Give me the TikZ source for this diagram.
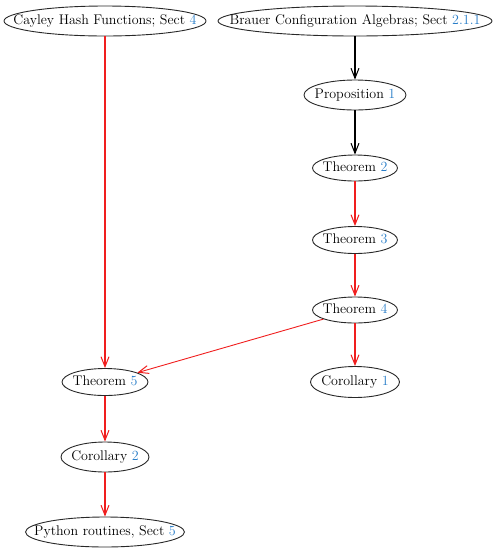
\documentclass[tikz,border=0pt]{standalone}
\usetikzlibrary{arrows.meta,shapes.geometric}
\definecolor{refblue}{RGB}{40,125,200}
\definecolor{refred}{RGB}{240,30,30}
\definecolor{refgray}{RGB}{40,40,40}
\newcommand{\rn}[1]{\textcolor{refblue}{#1}}
\newcommand{\lbl}[1]{\smash{\makebox[0pt][c]{\raisebox{-0.55ex}{#1}}}}
\begin{document}
\begin{tikzpicture}[x=1pt,y=-1pt,
  nd/.style={ellipse,draw=refgray,line width=0.9pt,inner sep=0pt,font=\fontsize{14}{16}\selectfont},
  blk/.style={draw=black,line width=1.2pt,-{Straight Barb[length=10pt,width=8pt,line width=1pt]}},
  rd/.style={draw=refred,line width=1.2pt,-{Straight Barb[length=10pt,width=8pt,line width=1pt]}}]
\useasboundingbox (0,0) rectangle (494,550);
\node[nd,minimum width=202,minimum height=30] (cay) at (105,21) {\lbl{Cayley Hash Functions; Sect \rn{4}}};
\node[nd,minimum width=274,minimum height=30] (bra) at (355,21) {\lbl{Brauer Configuration Algebras; Sect \rn{2.1.1}}};
\node[nd,minimum width=102,minimum height=30] (p1) at (355,95) {\lbl{Proposition \rn{1}}};
\node[nd,minimum width=85,minimum height=26] (t2) at (355,168) {\lbl{Theorem \rn{2}}};
\node[nd,minimum width=85,minimum height=27] (t3) at (355,240) {\lbl{Theorem \rn{3}}};
\node[nd,minimum width=85,minimum height=26] (t4) at (355,310) {\lbl{Theorem \rn{4}}};
\node[nd,minimum width=89,minimum height=31] (c1) at (355,382) {\lbl{Corollary \rn{1}}};
\node[nd,minimum width=86,minimum height=27] (t5) at (105,382) {\lbl{Theorem \rn{5}}};
\node[nd,minimum width=88,minimum height=30] (c2) at (105,457) {\lbl{Corollary \rn{2}}};
\node[nd,minimum width=159,minimum height=30] (py) at (105,532) {\lbl{Python routines, Sect \rn{5}}};
\draw[blk] (bra) -- (p1);
\draw[blk] (p1) -- (t2);
\draw[rd] (t2) -- (t3);
\draw[rd] (t3) -- (t4);
\draw[rd] (t4) -- (c1);
\draw[rd,line width=0.9pt] (t4) -- (t5);
\draw[rd] (cay) -- (t5);
\draw[rd] (t5) -- (c2);
\draw[rd] (c2) -- (py);
\end{tikzpicture}
\end{document}
